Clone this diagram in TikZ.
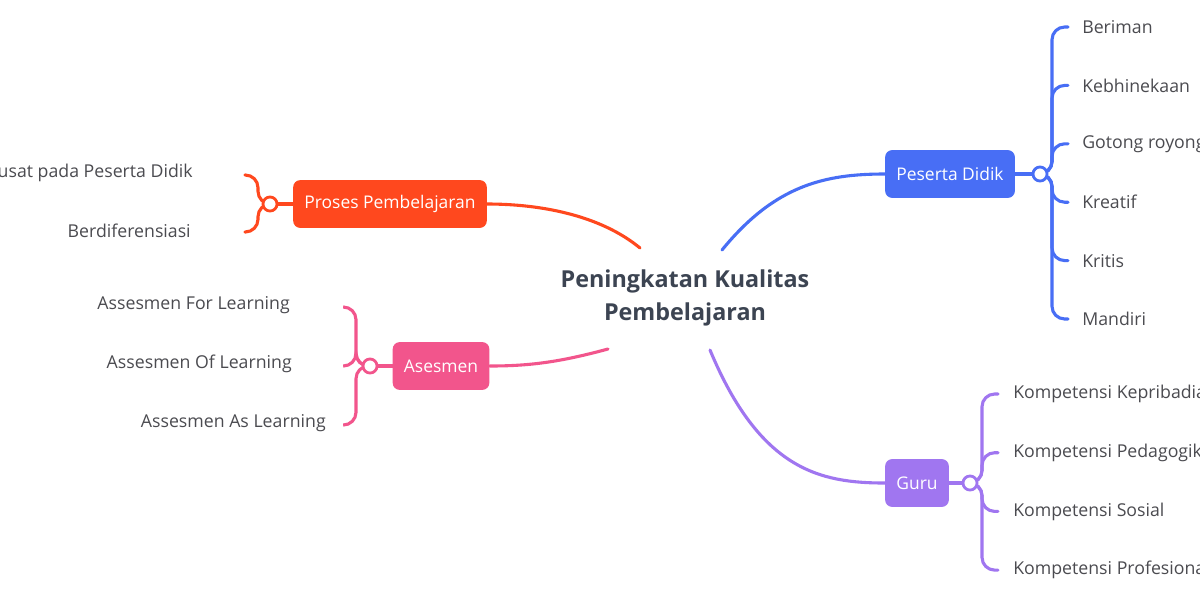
\documentclass[tikz,border=0pt]{standalone}
\usepackage{fontspec}
\setmainfont{Open Sans}
\definecolor{blueb}{RGB}{72,110,245}
\definecolor{redb}{RGB}{255,72,30}
\definecolor{pinkb}{RGB}{242,85,140}
\definecolor{purpleb}{RGB}{160,118,240}
\definecolor{leaftext}{RGB}{75,75,80}
\definecolor{maintext}{RGB}{60,68,82}
\tikzset{
  branch/.style={rectangle, rounded corners=5pt, fill=#1, text=white, minimum height=34pt, inner xsep=8pt, font=\fontsize{12.4}{14}\selectfont},
  hub/.style={circle, draw=#1, fill=white, line width=2pt, minimum size=10pt, inner sep=0pt},
  leaf/.style={text=leaftext, inner sep=0pt, font=\fontsize{12.6}{14}\selectfont},
  link/.style={draw=#1, line width=2.2pt, line cap=round}
}
\begin{document}
\begin{tikzpicture}[x=0.025cm, y=-0.025cm]
\clip (0,0) rectangle (1200,600);
\fill[white] (0,0) rectangle (1200,600);

% Centre
\node (root) [text=maintext, align=center, font=\bfseries\fontsize{16.6}{23}\selectfont] at (685,298) {Peningkatan Kualitas\\Pembelajaran};
\coordinate (rb) at (722,250);
\coordinate (rr) at (640,248);
\coordinate (rp) at (608,349);
\coordinate (rg) at (710,350);

% Branches
\node (peserta) [branch=blueb] at (950,174) {Peserta Didik};
\node (proses) [branch=redb] at (390,204) {Proses Pembelajaran};
\node (asesmen) [branch=pinkb] at (441,366) {Asesmen};
\node (guru) [branch=purpleb] at (917,483) {Guru};

\draw [link=blueb] (rb) .. controls (775,185) and (825,174) .. (peserta.west);
\draw [link=redb] (rr) .. controls (600,215) and (540,204) .. (proses.east);
\draw [link=pinkb] (rp) .. controls (560,362) and (530,366) .. (asesmen.east);
\draw [link=purpleb] (rg) .. controls (760,470) and (820,483) .. (guru.west);

% Hubs
\draw [link=blueb] (peserta.east) -- (1040,174);
\draw [link=redb] (proses.west) -- (270,204);
\draw [link=pinkb] (asesmen.west) -- (370,366);
\draw [link=purpleb] (guru.east) -- (970,483);

% Peserta Didik leaves
\foreach \t [count=\i] in {Beriman, Kebhinekaan, Gotong royong, Kreatif, Kritis, Mandiri} {
  \pgfmathsetmacro{\yy}{27+58.4*(\i-1)}
  \coordinate (pe\i) at (1068,\yy);
  \node (pl\i) [leaf, anchor=west] at (1082,\yy) {\t};
  \draw [link=blueb, rounded corners=9pt] (1040,174) -- (1052,174) |- (pe\i);
}
% Guru leaves
\foreach \t [count=\i] in {Kompetensi Kepribadian, Kompetensi Pedagogik, Kompetensi Sosial, Kompetensi Profesional} {
  \pgfmathsetmacro{\yy}{394+58.7*(\i-1)}
  \coordinate (ge\i) at (998,\yy);
  \node (gl\i) [leaf, anchor=west] at (1013,\yy) {\t};
  \draw [link=purpleb, rounded corners=9pt] (970,483) -- (982,483) |- (ge\i);
}
% Proses leaves
\coordinate (re1) at (245,175);
\coordinate (re2) at (245,232);
\node (rl1) [leaf, anchor=east] at (193,173) {Pusat pada Peserta Didik};
\node (rl2) [leaf, anchor=east] at (191,231) {Berdiferensiasi};
\foreach \i in {1,2} \draw [link=redb, rounded corners=9pt] (270,204) -- (258,204) |- (re\i);
% Asesmen leaves
\coordinate (ae1) at (344,307);
\coordinate (ae2) at (344,366);
\coordinate (ae3) at (344,425);
\node (al1) [leaf, anchor=east] at (290,305) {Assesmen For Learning};
\node (al2) [leaf, anchor=east] at (292,364) {Assesmen Of Learning};
\node (al3) [leaf, anchor=east] at (326,423) {Assesmen As Learning};
\foreach \i in {1,2,3} \draw [link=pinkb, rounded corners=9pt] (370,366) -- (356,366) |- (ae\i);

% Hub circles
\node (hb) [hub=blueb] at (1040,174) {};
\node (hr) [hub=redb] at (270,204) {};
\node (hp) [hub=pinkb] at (370,366) {};
\node (hg) [hub=purpleb] at (970,483) {};
\end{tikzpicture}
\end{document}
